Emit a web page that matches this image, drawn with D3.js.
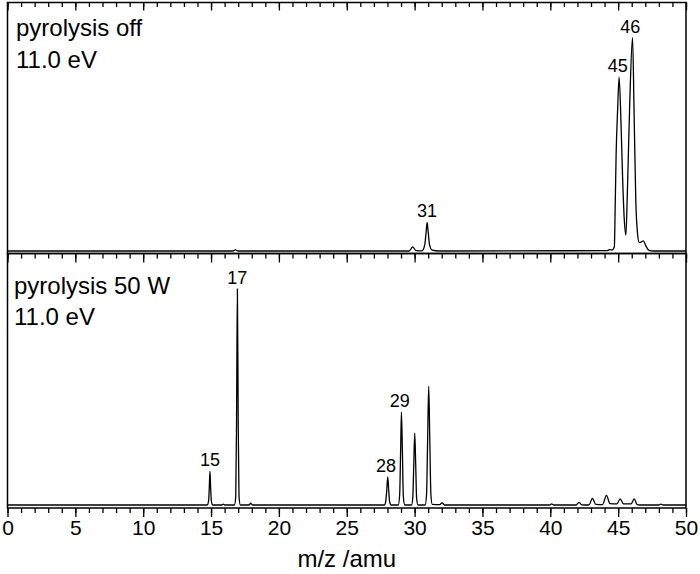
<!DOCTYPE html>
<html><head><meta charset="utf-8">
<script src="https://cdn.jsdelivr.net/npm/d3@7"></script>
<style>
html,body{margin:0;padding:0;background:#fff;}
svg text{font-family:"Liberation Sans",Arial,Helvetica,sans-serif;fill:#000;}
</style></head>
<body>
<svg id="c" width="700" height="574"></svg>
<script>
// ---- data (m/z, relative intensity) ----
const topMz = [0,16.6,16.8,17.0,29.6,29.86,30.1,30.55,30.75,30.85,30.92,31.0,31.1,31.3,31.8,44.2,44.35,44.55,44.72,44.78,44.85,44.96,45.07,45.2,45.32,45.44,45.57,45.69,45.86,46.06,46.18,46.30,46.43,46.55,46.7,46.85,47.05,47.27,47.6,50];
const topI  = [0,0,0.5,0,0,1.9,0.2,0.1,3,9,13.4,9,3,0.4,0,0.2,0.6,0.5,2,20,45,66,81.4,62,36,16,7.4,30,70.6,100,62.7,23.7,8,4,4.2,4.7,2.3,0.3,0,0];

const botMz = [0,14.72,14.82,14.87,14.92,14.97,15.02,15.12,15.8,15.9,16.0,16.72,16.82,16.88,16.94,17.0,17.06,17.16,17.8,17.92,18.05,27.78,27.88,27.95,28.02,28.09,28.16,28.27,28.8,28.9,28.97,29.03,29.1,29.17,29.28,29.78,29.87,29.94,30.01,30.08,30.15,30.25,30.78,30.88,30.96,31.04,31.12,31.2,31.3,31.85,32.03,32.2,39.95,40.1,40.25,41.9,42.12,42.32,42.85,43.1,43.35,43.85,44.14,44.4,44.9,45.15,45.4,45.95,46.18,46.4,46.6,48,48.15,48.3,50];
const botI  = [0,0,2,8,15.7,8,2,0,0,0.4,0,0,4,40,100,40,4,0,0,0.8,0,0,2,7,13,7,1.5,0,0,5,25,43,25,4,0,0,4,19,33.3,19,3,0,0,5,30,55,30,5,0.3,0.2,1,0,0,0.5,0,0,1.25,0.1,0,3.1,0.3,0.2,4.5,0.6,0.5,2.8,0.5,0.5,2.8,0.2,0,0,0.4,0,0];

const topPeakLabels = ["31","45","46"];
const topPeakMz     = [30.92,44.97,45.9];
const topPeakI      = [13.4,81.4,100];
const botPeakLabels = ["15","17","28","29"];
const botPeakMz     = [14.92,16.94,27.9,28.9];
const botPeakI      = [15.7,100,13,43];

const panelTitles = ["pyrolysis off","pyrolysis 50 W"];
const energyLabels = ["11.0 eV","11.0 eV"];
const majorTicks = [0,5,10,15,20,25,30,35,40,45,50];
const minorTicks = d3.range(0,51,1);
const xLabel = "m/z /amu";

// ---- layout ----
const svg = d3.select("#c");
const L = 7.5, R = 686, T = 2.5, M = 253.5, B = 508;
const x = d3.scaleLinear().domain([0,50]).range([L,R]);
const yTop = d3.scaleLinear().domain([0,100]).range([251,37.5]);
const yBot = d3.scaleLinear().domain([0,100]).range([505,289]);

function drawSpectrum(mz, I, y){
  const line = d3.line().x(d=>x(d[0])).y(d=>y(d[1])).curve(d3.curveMonotoneX);
  svg.append("path").datum(mz.map((m,i)=>[m,I[i]]))
    .attr("d",line).attr("fill","none").attr("stroke","#000")
    .attr("stroke-width",1.3).attr("stroke-linejoin","round");
}
drawSpectrum(topMz, topI, yTop);
drawSpectrum(botMz, botI, yBot);

// frames
[[T,M],[M,B]].forEach(([a,b])=>{
  svg.append("rect").attr("x",L).attr("y",a).attr("width",R-L).attr("height",b-a)
    .attr("fill","none").attr("stroke","#000").attr("stroke-width",1.5);
});

function ticksAt(yPos, minorLen, majorLen, labels){
  const gMin = svg.append("g").attr("transform",`translate(0,${yPos})`)
    .call(d3.axisBottom(x).tickValues(minorTicks).tickSize(minorLen).tickFormat(""));
  gMin.select(".domain").remove();
  gMin.selectAll("line").attr("stroke-width",1.3);
  const gMaj = svg.append("g").attr("transform",`translate(0,${yPos})`)
    .call(d3.axisBottom(x).tickValues(majorTicks).tickSize(majorLen).tickPadding(3)
      .tickFormat(labels ? d3.format("d") : ""));
  gMaj.select(".domain").remove();
  gMaj.selectAll("line").attr("stroke-width",1.3);
  gMaj.selectAll("text").attr("font-size",21)
    .attr("font-family","'Liberation Sans',Arial,Helvetica,sans-serif").attr("fill","#000");
}
ticksAt(T,4.5,8,false);
ticksAt(M,5,9,false);
ticksAt(B,5,9,true);

// axis label
svg.append("text").attr("x",(L+R)/2).attr("y",567).attr("text-anchor","middle")
  .attr("font-size",24).text(xLabel);

// panel titles
[[16,36,68],[14,294,325]].forEach((p,i)=>{
  svg.append("text").attr("x",p[0]).attr("y",p[1]).attr("font-size",24).text(panelTitles[i]);
  svg.append("text").attr("x",p[0]).attr("y",p[2]).attr("font-size",24).text(energyLabels[i]);
});

// peak labels
function peakLabels(labels, mz, I, y){
  labels.forEach((t,i)=>{
    svg.append("text").attr("x",x(mz[i])).attr("y",y(I[i])-5)
      .attr("text-anchor","middle").attr("font-size",18).text(t);
  });
}
peakLabels(topPeakLabels, topPeakMz, topPeakI, yTop);
peakLabels(botPeakLabels, botPeakMz, botPeakI, yBot);
</script>
</body></html>
